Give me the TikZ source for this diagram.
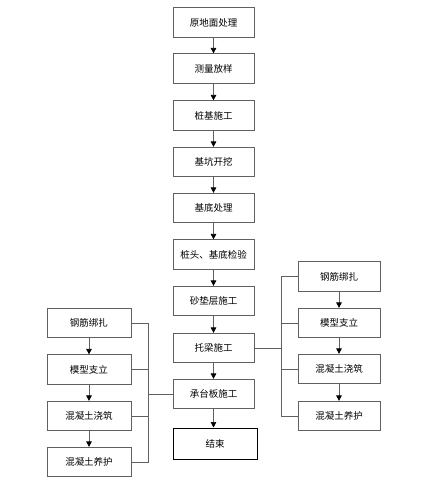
\documentclass[tikz,border=0pt]{standalone}
\usepackage{fontspec}
\newfontfamily\cjk{Noto Sans CJK SC}
\usetikzlibrary{arrows.meta}
\tikzset{
  box/.style={draw=gray!75!black, line width=0.7pt, minimum height=29.5pt, inner sep=0pt, font=\cjk\fontsize{9.5}{10}\selectfont},
  mbox/.style={box, minimum width=81pt},
  sbox/.style={box, minimum width=83pt},
  endbox/.style={draw=black, line width=1pt, minimum height=31pt, minimum width=84pt, inner sep=0pt, font=\cjk\fontsize{9.5}{10}\selectfont},
  arr/.style={draw=gray!75!black, line width=0.7pt, -{Triangle[length=5.5pt,width=5.5pt,black]}},
  conn/.style={draw=gray!75!black, line width=0.7pt}
}
\begin{document}
\begin{tikzpicture}[x=1pt,y=-1pt]
\useasboundingbox (0,0) rectangle (424,483);
\node[mbox] (m1) at (213.5,22.5) {原地面处理};
\node[mbox] (m2) at (213.5,68.5) {测量放样};
\node[mbox] (m3) at (213.5,115.5) {桩基施工};
\node[mbox] (m4) at (213.5,162) {基坑开挖};
\node[mbox] (m5) at (213.5,208) {基底处理};
\node[mbox] (m6) at (213.5,254.5) {桩头、基底检验};
\node[mbox] (m7) at (213.5,301) {砂垫层施工};
\node[mbox] (m8) at (213.5,348) {托梁施工};
\node[mbox] (m9) at (213.5,394) {承台板施工};
\node[endbox] (end) at (215,443.5) {结束};
\node[sbox, minimum width=84pt] (l1) at (89,323) {钢筋绑扎};
\node[sbox, minimum width=84pt] (l2) at (89,369.5) {模型支立};
\node[sbox, minimum width=84pt] (l3) at (89,416) {混凝土浇筑};
\node[sbox, minimum width=84pt] (l4) at (89,462) {混凝土养护};
\node[sbox, minimum width=82pt] (r1) at (339,276.5) {钢筋绑扎};
\node[sbox, minimum width=82pt] (r2) at (339,323) {模型支立};
\node[sbox, minimum width=82pt] (r3) at (339,369) {混凝土浇筑};
\node[sbox, minimum width=82pt] (r4) at (339,416) {混凝土养护};
\foreach \a/\b in {m1/m2,m2/m3,m3/m4,m4/m5,m5/m6,m6/m7,m7/m8,m8/m9,l1/l2,l2/l3,l3/l4,r1/r2,r2/r3,r3/r4}
  \draw[arr] (\a.south) -- (\b.north);
\draw[arr] (m9.south) -- (m9.south |- end.north);
\coordinate (lb) at (148,394);
\coordinate (rb) at (281,348);
\draw[conn] (m9.west) -- (lb);
\draw[conn] (l1.east) -| (lb);
\draw[conn] (l4.east) -| (lb);
\draw[conn] (l2.east) -- (l2.east -| lb);
\draw[conn] (l3.east) -- (l3.east -| lb);
\draw[conn] (m8.east) -- (rb);
\draw[conn] (r1.west) -| (rb);
\draw[conn] (r4.west) -| (rb);
\draw[conn] (r2.west) -- (r2.west -| rb);
\draw[conn] (r3.west) -- (r3.west -| rb);
\end{tikzpicture}
\end{document}
